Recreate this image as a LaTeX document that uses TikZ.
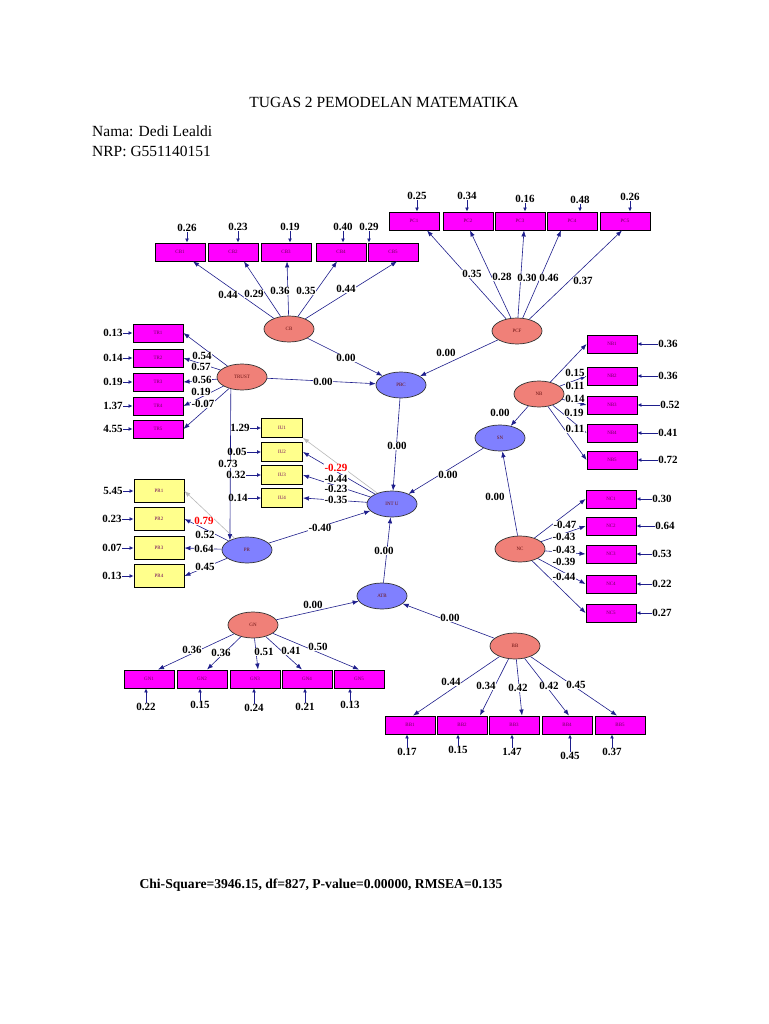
\documentclass[tikz,border=0pt]{standalone}
\usepackage{fontspec}
\setmainfont{Liberation Serif}
\usetikzlibrary{shapes.geometric,arrows.meta}
\definecolor{mag}{RGB}{255,0,255}
\definecolor{ylw}{RGB}{255,255,140}
\definecolor{sal}{RGB}{240,128,120}
\definecolor{blu}{RGB}{128,128,255}
\definecolor{navy}{RGB}{30,30,140}
\definecolor{boxtxt}{RGB}{110,0,90}
\definecolor{lattxt}{RGB}{110,20,20}
\begin{document}
\begin{tikzpicture}[x=1pt,y=-1pt,
  mbox/.style={draw=black,line width=0.9pt,fill=mag,minimum width=50pt,minimum height=18pt,inner sep=0pt,font=\fontsize{5}{5}\selectfont,text=boxtxt},
  ybox/.style={mbox,fill=ylw},
  lat/.style={ellipse,draw=black!80,line width=0.7pt,fill=sal,minimum width=50pt,minimum height=26pt,inner sep=0pt,font=\fontsize{5}{5}\selectfont,text=lattxt},
  blat/.style={lat,fill=blu},
  ld/.style={draw=navy,line width=0.6pt,-{Latex[length=6pt,width=4.5pt]}},
  gld/.style={draw=gray!55,line width=0.6pt,-{Latex[length=6pt,width=4.5pt]}},
  err/.style={draw=navy,line width=0.9pt,-{Latex[length=4pt,width=4pt]}},
  lbl/.style={font=\fontsize{11}{11}\selectfont\bfseries,fill=white,inner sep=0.3pt},
  rlbl/.style={lbl,text=red},
  elbl/.style={font=\fontsize{11}{11}\selectfont\bfseries,inner sep=0.5pt},
  hdr/.style={font=\fontsize{15.5}{18}\selectfont,inner sep=0pt}
]
\path[use as bounding box,fill=white] (0,0) rectangle (768,1024);

% header and footer
\node[hdr] (title) at (384,102) {TUGAS 2 PEMODELAN MATEMATIKA};
\node[hdr,anchor=west] (nama) at (92,131) {Nama: Dedi Lealdi};
\node[hdr,anchor=west] (nrp) at (92,151) {NRP: G551140151};
\node[inner sep=0pt,font=\fontsize{13.6}{16}\selectfont\bfseries] (chi) at (321,885) {Chi-Square=3946.15, df=827, P-value=0.00000, RMSEA=0.135};

% indicator boxes
\foreach \n/\x in {CB1/180,CB2/233,CB3/286,CB4/341,CB5/393} \node[mbox] (\n) at (\x,252) {\n};
\foreach \n/\x in {PC1/414,PC2/468,PC3/520,PC4/572,PC5/625} \node[mbox] (\n) at (\x,221) {\n};
\foreach \n/\y in {TR1/333,TR2/358,TR3/382,TR4/406,TR5/429} \node[mbox] (\n) at (158,\y) {\n};
\foreach \n/\y in {IU1/428,IU2/452,IU3/475,IU4/498} \node[ybox,minimum width=41pt,minimum height=19pt] (\n) at (282,\y) {\n};
\foreach \n/\y in {PR1/491,PR2/519,PR3/548,PR4/576} \node[ybox,minimum height=23pt] (\n) at (159,\y) {\n};
\foreach \n/\y in {NB1/344,NB2/376,NB3/405,NB4/433,NB5/460} \node[mbox] (\n) at (612,\y) {\n};
\foreach \n/\y in {NC1/499,NC2/526,NC3/554,NC4/584,NC5/613} \node[mbox] (\n) at (611,\y) {\n};
\foreach \n/\x in {GN1/149,GN2/202,GN3/255,GN4/307,GN5/359} \node[mbox] (\n) at (\x,679) {\n};
\foreach \n/\x in {BB1/410,BB2/462,BB3/514,BB4/567,BB5/620} \node[mbox] (\n) at (\x,725) {\n};

% latent variables
\node[lat] (CB) at (289,329) {CB};
\node[lat] (PCF) at (517,331) {PCF};
\node[lat] (TRUST) at (242,377) {TRUST};
\node[blat] (PBC) at (401,385) {PBC};
\node[lat] (NB) at (539,394) {NB};
\node[blat] (SN) at (500,438) {SN};
\node[blat] (INTU) at (392,504) {INT U};
\node[lat] (NC) at (520,549) {NC};
\node[blat] (PR) at (247,550) {PR};
\node[blat] (ATB) at (382,596) {ATB};
\node[lat] (GN) at (253,625) {GN};
\node[lat] (BB) at (515,646) {BB};

% loadings
\foreach \b/\s in {CB1/13,CB2/11,CB3/1,CB4/-4,CB5/4} \draw[ld] (CB) -- ([xshift=\s pt]\b.south);
\foreach \b/\s in {PC1/13,PC2/2,PC3/4,PC4/-11,PC5/-3} \draw[ld] (PCF) -- ([xshift=\s pt]\b.south);
\foreach \b in {TR1,TR2,TR3,TR4,TR5} \draw[ld] (TRUST) -- (\b.east);
\draw[gld] (INTU) -- (IU1.south east);
\foreach \b in {IU2,IU3,IU4} \draw[ld] (INTU) -- (\b.east);
\draw[gld] (PR) -- (PR1.east);
\foreach \b in {PR2,PR3,PR4} \draw[ld] (PR) -- (\b.east);
\foreach \b in {NB1,NB2,NB3,NB4,NB5} \draw[ld] (NB) -- (\b.west);
\foreach \b in {NC1,NC2,NC3,NC4,NC5} \draw[ld] (NC) -- (\b.west);
\foreach \b/\s in {GN1/9,GN2/5,GN3/3,GN4/-5,GN5/0} \draw[ld] (GN) -- ([xshift=\s pt]\b.north);
\foreach \b/\s in {BB1/3,BB2/18,BB3/8,BB4/2,BB5/-3} \draw[ld] (BB) -- ([xshift=\s pt]\b.north);

% structural paths
\draw[ld] (CB) -- (PBC);
\draw[ld] (PCF) -- (PBC);
\draw[ld] (TRUST) -- (PBC);
\draw[ld] (PBC) -- (INTU);
\draw[ld] (SN) -- (INTU);
\draw[ld] (NB) -- (SN);
\draw[ld] (NC) -- (SN);
\draw[ld] (ATB) -- (INTU);
\draw[ld] (GN) -- (ATB);
\draw[ld] (BB) -- (ATB);
\draw[ld] (TRUST.227) -- (PR.150);
\draw[ld] (PR) -- (INTU);

% error terms
\foreach \b/\x/\y/\t in {CB1/187/228/0.26,CB2/238/227/0.23,CB3/290/227/0.19,CB4/343/227/0.40,CB5/369/227/0.29,
  PC1/417/196/0.25,PC2/467/196/0.34,PC3/525/199/0.16,PC4/580/200/0.48,PC5/630/197/0.26}
  {\node[elbl] (e\b) at (\x,\y) {\t}; \draw[err] (e\b.south) -- (e\b.south |- \b.north);}
\foreach \b/\x/\y/\t in {GN1/146/707/0.22,GN2/200/705/0.15,GN3/254/708/0.24,GN4/305/707/0.21,GN5/350/705/0.13,
  BB1/407/752/0.17,BB2/458/750/0.15,BB3/512/752/1.47,BB4/570/756/0.45,BB5/612/752/0.37}
  {\node[elbl] (e\b) at (\x,\y) {\t}; \draw[err] (e\b.north) -- (e\b.north |- \b.south);}
\foreach \b/\x/\t in {TR1/113/0.13,TR2/113/0.14,TR3/113/0.19,TR4/113/1.37,TR5/113/4.55,
  IU1/240/1.29,IU2/237/0.05,IU3/236/0.32,IU4/238/0.14,
  PR1/113/5.45,PR2/112/0.23,PR3/112/0.07,PR4/112/0.13}
  {\node[elbl] (e\b) at (\x,0 |- \b) {\t}; \draw[err] (e\b.east) -- (e\b.east -| \b.west);}
\foreach \b/\x/\t in {NB1/668/0.36,NB2/668/0.36,NB3/670/0.52,NB4/668/0.41,NB5/668/0.72,
  NC1/662/0.30,NC2/665/0.64,NC3/662/0.53,NC4/662/0.22,NC5/662/0.27}
  {\node[elbl] (e\b) at (\x,0 |- \b) {\t}; \draw[err] (e\b.west) -- (e\b.west -| \b.east);}

% loading labels
\foreach \n/\x/\y/\t in {
  a1/228/295/0.44,a2/254/294/0.29,a3/280/291/0.36,a4/306/291/0.35,a5/346/289/0.44,
  b1/472/274/0.35,b2/502/277/0.28,b3/527/278/0.30,b4/549/278/0.46,b5/583/281/0.37,
  c1/202/356/0.54,c2/201/367/0.57,c3/202/380/0.56,c4/201/392/0.19,c5/203/404/-0.07,
  d2/336/479/-0.44,d3/336/489/-0.23,d4/336/500/-0.35,
  f2/205/535/0.52,f3/204/549/0.64,f4/205/567/0.45,
  g1/575/373/0.15,g2/575/386/0.11,g3/575/399/0.14,g4/574/413/0.19,g5/575/429/0.11,
  h1/565/525/-0.47,h2/564/537/-0.43,h3/564/550/-0.43,h4/564/562/-0.39,h5/564/577/-0.44,
  i1/192/650/0.36,i2/221/653/0.36,i3/264/652/0.51,i4/291/651/0.41,i5/318/647/0.50,
  j1/451/682/0.44,j2/486/686/0.34,j3/518/688/0.42,j4/549/686/0.42,j5/576/685/0.45,
  s1/346/358/0.00,s2/446/353/0.00,s3/323/382/0.00,s4/397/446/0.00,s5/448/475/0.00,
  s6/500/413/0.00,s7/495/497/0.00,s8/384/551/0.00,s9/313/605/0.00,s10/450/618/0.00,
  s11/228/464/0.73,s12/320/528/-0.40}
  \node[lbl] (\n) at (\x,\y) {\t};
\node[rlbl] (d1) at (336,468) {-0.29};
\node[rlbl] (f1) at (204,521) {0.79};
\end{tikzpicture}
\end{document}
